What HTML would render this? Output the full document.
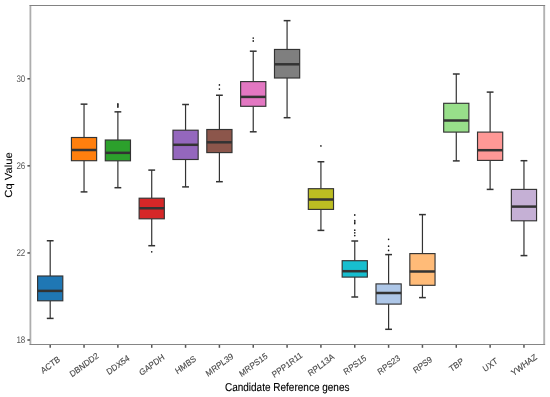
<!DOCTYPE html><html><head><meta charset="utf-8"><title>Cq values of candidate reference genes</title>
<style>html,body{margin:0;padding:0;background:#fff}svg{display:block}text{font-family:"Liberation Sans",Arial,Helvetica,sans-serif;text-rendering:geometricPrecision}</style></head><body>
<svg width="550" height="397" viewBox="0 0 550 397">
<rect width="550" height="397" fill="#fff"/>
<line x1="30.4" x2="30.4" y1="5.0" y2="345.0" stroke="#adadad" stroke-width="1.8"/>
<line x1="544.2" x2="544.2" y1="5.0" y2="345.0" stroke="#b2b2b2" stroke-width="1.9"/>
<line x1="29.6" x2="545.1" y1="5.5" y2="5.5" stroke="#828282" stroke-width="1.0"/>
<line x1="29.6" x2="545.1" y1="344.5" y2="344.5" stroke="#858585" stroke-width="1.05"/>
<line x1="27.4" x2="29.9" y1="78.8" y2="78.8" stroke="#333333" stroke-width="1.3"/>
<text transform="translate(25.3,82.20) scale(1,1.2)" text-anchor="end" font-size="8" fill="#555">30</text>
<line x1="27.4" x2="29.9" y1="165.85" y2="165.85" stroke="#333333" stroke-width="1.3"/>
<text transform="translate(25.3,169.25) scale(1,1.2)" text-anchor="end" font-size="8" fill="#555">26</text>
<line x1="27.4" x2="29.9" y1="252.95" y2="252.95" stroke="#333333" stroke-width="1.3"/>
<text transform="translate(25.3,256.35) scale(1,1.2)" text-anchor="end" font-size="8" fill="#555">22</text>
<line x1="27.4" x2="29.9" y1="340.0" y2="340.0" stroke="#333333" stroke-width="1.3"/>
<text transform="translate(25.3,343.40) scale(1,1.2)" text-anchor="end" font-size="8" fill="#555">18</text>
<g>
<line x1="50.20" x2="50.20" y1="345.0" y2="347.8" stroke="#555" stroke-width="1.5"/>
<line x1="50.20" x2="50.20" y1="240.75" y2="276.0" stroke="#333333" stroke-width="1.2"/>
<line x1="50.20" x2="50.20" y1="300.8" y2="318.4" stroke="#333333" stroke-width="1.2"/>
<line x1="46.80" x2="53.60" y1="240.75" y2="240.75" stroke="#333333" stroke-width="1.5"/>
<line x1="46.80" x2="53.60" y1="318.4" y2="318.4" stroke="#333333" stroke-width="1.5"/>
<rect x="37.60" y="276.0" width="25.2" height="24.80" fill="#1f77b4" stroke="#333333" stroke-width="1.15"/>
<line x1="37.60" x2="62.80" y1="290.9" y2="290.9" stroke="#333333" stroke-width="2.5"/>
<text transform="translate(50.20,364.75) scale(1,1.1) rotate(-34)" text-anchor="middle" dy="2.87" font-size="8" fill="#454545" stroke="#454545" stroke-width="0.12">ACTB</text>
</g>
<g>
<line x1="84.04" x2="84.04" y1="345.0" y2="347.8" stroke="#555" stroke-width="1.5"/>
<line x1="84.04" x2="84.04" y1="104.15" y2="137.5" stroke="#333333" stroke-width="1.2"/>
<line x1="84.04" x2="84.04" y1="160.7" y2="191.9" stroke="#333333" stroke-width="1.2"/>
<line x1="80.64" x2="87.44" y1="104.15" y2="104.15" stroke="#333333" stroke-width="1.5"/>
<line x1="80.64" x2="87.44" y1="191.9" y2="191.9" stroke="#333333" stroke-width="1.5"/>
<rect x="71.44" y="137.5" width="25.2" height="23.20" fill="#ff7f0e" stroke="#333333" stroke-width="1.15"/>
<line x1="71.44" x2="96.64" y1="150.0" y2="150.0" stroke="#333333" stroke-width="2.5"/>
<text transform="translate(84.04,364.75) scale(1,1.1) rotate(-34)" text-anchor="middle" dy="2.87" font-size="8" fill="#454545" stroke="#454545" stroke-width="0.12">DBNDD2</text>
</g>
<g>
<line x1="117.88" x2="117.88" y1="345.0" y2="347.8" stroke="#555" stroke-width="1.5"/>
<line x1="117.88" x2="117.88" y1="111.85" y2="140.0" stroke="#333333" stroke-width="1.2"/>
<line x1="117.88" x2="117.88" y1="160.8" y2="187.7" stroke="#333333" stroke-width="1.2"/>
<line x1="114.48" x2="121.28" y1="111.85" y2="111.85" stroke="#333333" stroke-width="1.5"/>
<line x1="114.48" x2="121.28" y1="187.7" y2="187.7" stroke="#333333" stroke-width="1.5"/>
<rect x="105.28" y="140.0" width="25.2" height="20.80" fill="#2ca02c" stroke="#333333" stroke-width="1.15"/>
<line x1="105.28" x2="130.48" y1="152.85" y2="152.85" stroke="#333333" stroke-width="2.5"/>
<ellipse cx="117.88" cy="103.9" rx="0.8" ry="0.9" fill="#1a1a1a"/>
<ellipse cx="117.88" cy="105.0" rx="0.8" ry="0.9" fill="#1a1a1a"/>
<ellipse cx="117.88" cy="106.1" rx="0.8" ry="0.9" fill="#1a1a1a"/>
<ellipse cx="117.88" cy="107.1" rx="0.8" ry="0.9" fill="#1a1a1a"/>
<text transform="translate(117.88,364.75) scale(1,1.1) rotate(-34)" text-anchor="middle" dy="2.87" font-size="8" fill="#454545" stroke="#454545" stroke-width="0.12">DDX54</text>
</g>
<g>
<line x1="151.72" x2="151.72" y1="345.0" y2="347.8" stroke="#555" stroke-width="1.5"/>
<line x1="151.72" x2="151.72" y1="170.1" y2="198.2" stroke="#333333" stroke-width="1.2"/>
<line x1="151.72" x2="151.72" y1="218.8" y2="245.7" stroke="#333333" stroke-width="1.2"/>
<line x1="148.32" x2="155.12" y1="170.1" y2="170.1" stroke="#333333" stroke-width="1.5"/>
<line x1="148.32" x2="155.12" y1="245.7" y2="245.7" stroke="#333333" stroke-width="1.5"/>
<rect x="139.12" y="198.2" width="25.2" height="20.60" fill="#d62728" stroke="#333333" stroke-width="1.15"/>
<line x1="139.12" x2="164.32" y1="208.25" y2="208.25" stroke="#333333" stroke-width="2.5"/>
<ellipse cx="151.72" cy="251.8" rx="0.8" ry="0.9" fill="#1a1a1a"/>
<text transform="translate(151.72,364.75) scale(1,1.1) rotate(-34)" text-anchor="middle" dy="2.87" font-size="8" fill="#454545" stroke="#454545" stroke-width="0.12">GAPDH</text>
</g>
<g>
<line x1="185.56" x2="185.56" y1="345.0" y2="347.8" stroke="#555" stroke-width="1.5"/>
<line x1="185.56" x2="185.56" y1="104.5" y2="130.2" stroke="#333333" stroke-width="1.2"/>
<line x1="185.56" x2="185.56" y1="159.5" y2="186.9" stroke="#333333" stroke-width="1.2"/>
<line x1="182.16" x2="188.96" y1="104.5" y2="104.5" stroke="#333333" stroke-width="1.5"/>
<line x1="182.16" x2="188.96" y1="186.9" y2="186.9" stroke="#333333" stroke-width="1.5"/>
<rect x="172.96" y="130.2" width="25.2" height="29.30" fill="#9467bd" stroke="#333333" stroke-width="1.15"/>
<line x1="172.96" x2="198.16" y1="144.8" y2="144.8" stroke="#333333" stroke-width="2.5"/>
<text transform="translate(185.56,364.75) scale(1,1.1) rotate(-34)" text-anchor="middle" dy="2.87" font-size="8" fill="#454545" stroke="#454545" stroke-width="0.12">HMBS</text>
</g>
<g>
<line x1="219.40" x2="219.40" y1="345.0" y2="347.8" stroke="#555" stroke-width="1.5"/>
<line x1="219.40" x2="219.40" y1="95.25" y2="129.5" stroke="#333333" stroke-width="1.2"/>
<line x1="219.40" x2="219.40" y1="152.6" y2="181.7" stroke="#333333" stroke-width="1.2"/>
<line x1="216.00" x2="222.80" y1="95.25" y2="95.25" stroke="#333333" stroke-width="1.5"/>
<line x1="216.00" x2="222.80" y1="181.7" y2="181.7" stroke="#333333" stroke-width="1.5"/>
<rect x="206.80" y="129.5" width="25.2" height="23.10" fill="#8c564b" stroke="#333333" stroke-width="1.15"/>
<line x1="206.80" x2="232.00" y1="142.3" y2="142.3" stroke="#333333" stroke-width="2.5"/>
<ellipse cx="219.40" cy="84.9" rx="0.8" ry="0.9" fill="#1a1a1a"/>
<ellipse cx="219.40" cy="89.05" rx="0.8" ry="0.9" fill="#1a1a1a"/>
<text transform="translate(219.40,364.75) scale(1,1.1) rotate(-34)" text-anchor="middle" dy="2.87" font-size="8" fill="#454545" stroke="#454545" stroke-width="0.12">MRPL39</text>
</g>
<g>
<line x1="253.24" x2="253.24" y1="345.0" y2="347.8" stroke="#555" stroke-width="1.5"/>
<line x1="253.24" x2="253.24" y1="51.2" y2="81.6" stroke="#333333" stroke-width="1.2"/>
<line x1="253.24" x2="253.24" y1="106.3" y2="131.8" stroke="#333333" stroke-width="1.2"/>
<line x1="249.84" x2="256.64" y1="51.2" y2="51.2" stroke="#333333" stroke-width="1.5"/>
<line x1="249.84" x2="256.64" y1="131.8" y2="131.8" stroke="#333333" stroke-width="1.5"/>
<rect x="240.64" y="81.6" width="25.2" height="24.70" fill="#e377c2" stroke="#333333" stroke-width="1.15"/>
<line x1="240.64" x2="265.84" y1="96.9" y2="96.9" stroke="#333333" stroke-width="2.5"/>
<ellipse cx="253.24" cy="38.1" rx="0.8" ry="0.9" fill="#1a1a1a"/>
<ellipse cx="253.24" cy="41.0" rx="0.8" ry="0.9" fill="#1a1a1a"/>
<text transform="translate(253.24,364.75) scale(1,1.1) rotate(-34)" text-anchor="middle" dy="2.87" font-size="8" fill="#454545" stroke="#454545" stroke-width="0.12">MRPS15</text>
</g>
<g>
<line x1="287.08" x2="287.08" y1="345.0" y2="347.8" stroke="#555" stroke-width="1.5"/>
<line x1="287.08" x2="287.08" y1="20.65" y2="49.45" stroke="#333333" stroke-width="1.2"/>
<line x1="287.08" x2="287.08" y1="78.0" y2="117.7" stroke="#333333" stroke-width="1.2"/>
<line x1="283.68" x2="290.48" y1="20.65" y2="20.65" stroke="#333333" stroke-width="1.5"/>
<line x1="283.68" x2="290.48" y1="117.7" y2="117.7" stroke="#333333" stroke-width="1.5"/>
<rect x="274.48" y="49.45" width="25.2" height="28.55" fill="#7f7f7f" stroke="#333333" stroke-width="1.15"/>
<line x1="274.48" x2="299.68" y1="64.3" y2="64.3" stroke="#333333" stroke-width="2.5"/>
<text transform="translate(287.08,364.75) scale(1,1.1) rotate(-34)" text-anchor="middle" dy="2.87" font-size="8" fill="#454545" stroke="#454545" stroke-width="0.12">PPP1R11</text>
</g>
<g>
<line x1="320.92" x2="320.92" y1="345.0" y2="347.8" stroke="#555" stroke-width="1.5"/>
<line x1="320.92" x2="320.92" y1="161.75" y2="188.7" stroke="#333333" stroke-width="1.2"/>
<line x1="320.92" x2="320.92" y1="209.4" y2="230.4" stroke="#333333" stroke-width="1.2"/>
<line x1="317.52" x2="324.32" y1="161.75" y2="161.75" stroke="#333333" stroke-width="1.5"/>
<line x1="317.52" x2="324.32" y1="230.4" y2="230.4" stroke="#333333" stroke-width="1.5"/>
<rect x="308.32" y="188.7" width="25.2" height="20.70" fill="#bcbd22" stroke="#333333" stroke-width="1.15"/>
<line x1="308.32" x2="333.52" y1="199.5" y2="199.5" stroke="#333333" stroke-width="2.5"/>
<ellipse cx="320.92" cy="145.9" rx="0.8" ry="0.9" fill="#1a1a1a"/>
<text transform="translate(320.92,364.75) scale(1,1.1) rotate(-34)" text-anchor="middle" dy="2.87" font-size="8" fill="#454545" stroke="#454545" stroke-width="0.12">RPL13A</text>
</g>
<g>
<line x1="354.76" x2="354.76" y1="345.0" y2="347.8" stroke="#555" stroke-width="1.5"/>
<line x1="354.76" x2="354.76" y1="241.0" y2="260.7" stroke="#333333" stroke-width="1.2"/>
<line x1="354.76" x2="354.76" y1="277.1" y2="297.0" stroke="#333333" stroke-width="1.2"/>
<line x1="351.36" x2="358.16" y1="241.0" y2="241.0" stroke="#333333" stroke-width="1.5"/>
<line x1="351.36" x2="358.16" y1="297.0" y2="297.0" stroke="#333333" stroke-width="1.5"/>
<rect x="342.16" y="260.7" width="25.2" height="16.40" fill="#17becf" stroke="#333333" stroke-width="1.15"/>
<line x1="342.16" x2="367.36" y1="271.2" y2="271.2" stroke="#333333" stroke-width="2.5"/>
<ellipse cx="354.76" cy="215.0" rx="0.8" ry="0.9" fill="#1a1a1a"/>
<ellipse cx="354.76" cy="220.7" rx="0.8" ry="0.9" fill="#1a1a1a"/>
<ellipse cx="354.76" cy="222.1" rx="0.8" ry="0.9" fill="#1a1a1a"/>
<ellipse cx="354.76" cy="223.5" rx="0.8" ry="0.9" fill="#1a1a1a"/>
<ellipse cx="354.76" cy="230.2" rx="0.8" ry="0.9" fill="#1a1a1a"/>
<ellipse cx="354.76" cy="232.8" rx="0.8" ry="0.9" fill="#1a1a1a"/>
<ellipse cx="354.76" cy="235.6" rx="0.8" ry="0.9" fill="#1a1a1a"/>
<text transform="translate(354.76,364.75) scale(1,1.1) rotate(-34)" text-anchor="middle" dy="2.87" font-size="8" fill="#454545" stroke="#454545" stroke-width="0.12">RPS15</text>
</g>
<g>
<line x1="388.60" x2="388.60" y1="345.0" y2="347.8" stroke="#555" stroke-width="1.5"/>
<line x1="388.60" x2="388.60" y1="254.6" y2="283.9" stroke="#333333" stroke-width="1.2"/>
<line x1="388.60" x2="388.60" y1="304.1" y2="329.3" stroke="#333333" stroke-width="1.2"/>
<line x1="385.20" x2="392.00" y1="254.6" y2="254.6" stroke="#333333" stroke-width="1.5"/>
<line x1="385.20" x2="392.00" y1="329.3" y2="329.3" stroke="#333333" stroke-width="1.5"/>
<rect x="376.00" y="283.9" width="25.2" height="20.20" fill="#aec7e8" stroke="#333333" stroke-width="1.15"/>
<line x1="376.00" x2="401.20" y1="293.0" y2="293.0" stroke="#333333" stroke-width="2.5"/>
<ellipse cx="388.60" cy="239.3" rx="0.8" ry="0.9" fill="#1a1a1a"/>
<ellipse cx="388.60" cy="246.2" rx="0.8" ry="0.9" fill="#1a1a1a"/>
<ellipse cx="388.60" cy="250.4" rx="0.8" ry="0.9" fill="#1a1a1a"/>
<text transform="translate(388.60,364.75) scale(1,1.1) rotate(-34)" text-anchor="middle" dy="2.87" font-size="8" fill="#454545" stroke="#454545" stroke-width="0.12">RPS23</text>
</g>
<g>
<line x1="422.44" x2="422.44" y1="345.0" y2="347.8" stroke="#555" stroke-width="1.5"/>
<line x1="422.44" x2="422.44" y1="214.6" y2="253.6" stroke="#333333" stroke-width="1.2"/>
<line x1="422.44" x2="422.44" y1="285.3" y2="297.6" stroke="#333333" stroke-width="1.2"/>
<line x1="419.04" x2="425.84" y1="214.6" y2="214.6" stroke="#333333" stroke-width="1.5"/>
<line x1="419.04" x2="425.84" y1="297.6" y2="297.6" stroke="#333333" stroke-width="1.5"/>
<rect x="409.84" y="253.6" width="25.2" height="31.70" fill="#ffbb78" stroke="#333333" stroke-width="1.15"/>
<line x1="409.84" x2="435.04" y1="271.5" y2="271.5" stroke="#333333" stroke-width="2.5"/>
<text transform="translate(422.44,364.75) scale(1,1.1) rotate(-34)" text-anchor="middle" dy="2.87" font-size="8" fill="#454545" stroke="#454545" stroke-width="0.12">RPS9</text>
</g>
<g>
<line x1="456.28" x2="456.28" y1="345.0" y2="347.8" stroke="#555" stroke-width="1.5"/>
<line x1="456.28" x2="456.28" y1="74.0" y2="103.3" stroke="#333333" stroke-width="1.2"/>
<line x1="456.28" x2="456.28" y1="132.1" y2="160.9" stroke="#333333" stroke-width="1.2"/>
<line x1="452.88" x2="459.68" y1="74.0" y2="74.0" stroke="#333333" stroke-width="1.5"/>
<line x1="452.88" x2="459.68" y1="160.9" y2="160.9" stroke="#333333" stroke-width="1.5"/>
<rect x="443.68" y="103.3" width="25.2" height="28.80" fill="#98df8a" stroke="#333333" stroke-width="1.15"/>
<line x1="443.68" x2="468.88" y1="120.5" y2="120.5" stroke="#333333" stroke-width="2.5"/>
<text transform="translate(456.28,364.75) scale(1,1.1) rotate(-34)" text-anchor="middle" dy="2.87" font-size="8" fill="#454545" stroke="#454545" stroke-width="0.12">TBP</text>
</g>
<g>
<line x1="490.12" x2="490.12" y1="345.0" y2="347.8" stroke="#555" stroke-width="1.5"/>
<line x1="490.12" x2="490.12" y1="92.1" y2="132.1" stroke="#333333" stroke-width="1.2"/>
<line x1="490.12" x2="490.12" y1="160.4" y2="189.4" stroke="#333333" stroke-width="1.2"/>
<line x1="486.72" x2="493.52" y1="92.1" y2="92.1" stroke="#333333" stroke-width="1.5"/>
<line x1="486.72" x2="493.52" y1="189.4" y2="189.4" stroke="#333333" stroke-width="1.5"/>
<rect x="477.52" y="132.1" width="25.2" height="28.30" fill="#ff9896" stroke="#333333" stroke-width="1.15"/>
<line x1="477.52" x2="502.72" y1="150.2" y2="150.2" stroke="#333333" stroke-width="2.5"/>
<text transform="translate(490.12,364.75) scale(1,1.1) rotate(-34)" text-anchor="middle" dy="2.87" font-size="8" fill="#454545" stroke="#454545" stroke-width="0.12">UXT</text>
</g>
<g>
<line x1="523.96" x2="523.96" y1="345.0" y2="347.8" stroke="#555" stroke-width="1.5"/>
<line x1="523.96" x2="523.96" y1="160.7" y2="189.4" stroke="#333333" stroke-width="1.2"/>
<line x1="523.96" x2="523.96" y1="220.8" y2="255.6" stroke="#333333" stroke-width="1.2"/>
<line x1="520.56" x2="527.36" y1="160.7" y2="160.7" stroke="#333333" stroke-width="1.5"/>
<line x1="520.56" x2="527.36" y1="255.6" y2="255.6" stroke="#333333" stroke-width="1.5"/>
<rect x="511.36" y="189.4" width="25.2" height="31.40" fill="#c5b0d5" stroke="#333333" stroke-width="1.15"/>
<line x1="511.36" x2="536.56" y1="206.6" y2="206.6" stroke="#333333" stroke-width="2.5"/>
<text transform="translate(523.96,364.75) scale(1,1.1) rotate(-34)" text-anchor="middle" dy="2.87" font-size="8" fill="#454545" stroke="#454545" stroke-width="0.12">YWHAZ</text>
</g>
<text transform="translate(287.2,390.8) scale(1,1.15)" text-anchor="middle" font-size="10" fill="#000" stroke="#000" stroke-width="0.1">Candidate Reference genes</text>
<text transform="translate(12.3,175.0) rotate(-90) scale(1.12,1.03)" text-anchor="middle" font-size="10" fill="#000" stroke="#000" stroke-width="0.1">Cq Value</text>
</svg></body></html>
